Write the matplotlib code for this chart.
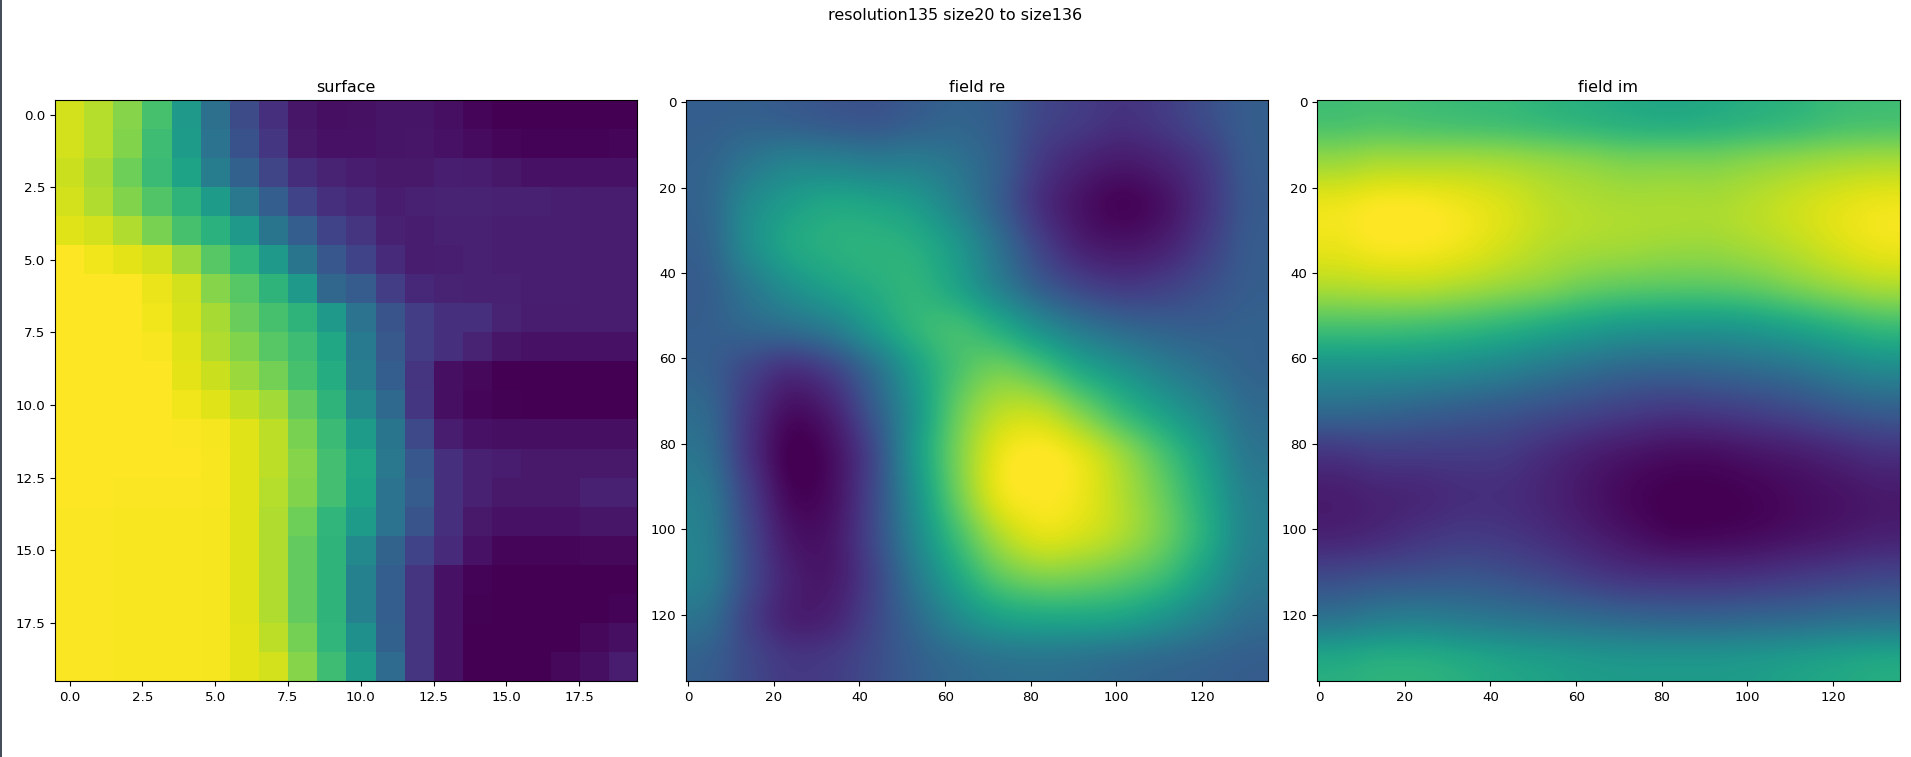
import numpy as np
import matplotlib
matplotlib.use("Agg")
import matplotlib.pyplot as plt
from matplotlib.lines import Line2D

# surface, 20 x 20
surface = [
    [.93, .89, .82, .71, .54, .37, .23, .14, .06, .04, .045, .055, .055, .04, .015, 0, 0, 0, 0, 0],
    [.93, .89, .81, .69, .55, .38, .25, .16, .07, .05, .05, .055, .06, .05, .03, .015, .01, .01, .01, .015],
    [.92, .87, .78, .68, .58, .42, .31, .21, .13, .10, .08, .07, .07, .085, .08, .065, .05, .05, .05, .05],
    [.93, .88, .81, .73, .65, .55, .40, .30, .20, .14, .11, .08, .09, .10, .10, .09, .09, .085, .08, .08],
    [.95, .93, .88, .80, .71, .64, .54, .39, .30, .20, .15, .09, .08, .09, .09, .085, .085, .085, .08, .08],
    [1.0, .98, .96, .93, .85, .74, .66, .54, .39, .27, .20, .12, .08, .085, .09, .085, .085, .085, .08, .08],
    [1, 1, 1, .97, .93, .82, .74, .65, .54, .33, .29, .18, .11, .10, .09, .09, .085, .085, .08, .08],
    [1, 1, 1, .98, .94, .87, .77, .71, .65, .54, .38, .26, .18, .14, .14, .10, .08, .08, .08, .08],
    [1, 1, 1, .99, .95, .88, .81, .74, .69, .60, .41, .28, .18, .14, .10, .06, .05, .05, .05, .05],
    [1, 1, 1, 1, .96, .92, .85, .79, .71, .62, .42, .30, .15, .04, .02, 0, 0, 0, 0, 0],
    [1, 1, 1, 1, .98, .95, .91, .86, .76, .65, .47, .34, .16, .04, .015, .005, 0, 0, 0, 0],
    [1, 1, 1, 1, .995, .985, .95, .90, .80, .68, .55, .39, .22, .08, .05, .04, .04, .04, .04, .04],
    [1, 1, 1, 1, 1, .99, .95, .90, .82, .70, .59, .40, .27, .14, .09, .08, .07, .07, .07, .07],
    [1, 1, .995, .995, .995, .99, .95, .89, .81, .70, .58, .38, .29, .14, .09, .07, .07, .07, .09, .09],
    [.995, .995, .99, .99, .99, .985, .95, .88, .78, .66, .55, .38, .26, .14, .07, .05, .05, .05, .06, .06],
    [.995, .995, .99, .99, .99, .985, .95, .88, .76, .65, .47, .32, .20, .12, .05, .015, .015, .015, .02, .02],
    [.995, .995, .99, .99, .99, .985, .95, .88, .76, .65, .44, .30, .15, .05, .01, 0, 0, 0, 0, 0],
    [.995, .995, .99, .99, .99, .985, .95, .88, .76, .65, .44, .30, .15, .05, .005, 0, 0, 0, 0, .01],
    [.995, .995, .99, .99, .99, .985, .96, .90, .79, .66, .50, .31, .15, .05, 0, 0, 0, 0, .02, .04],
    [.995, .995, .99, .99, .99, .985, .96, .93, .82, .69, .55, .35, .15, .05, 0, 0, 0, .02, .04, .08],
]

field_re = [
    [.30, .31, .30, .28, .27, .30, .32, .29, .21, .17, .14, .17, .23, .29],
    [.32, .39, .44, .44, .42, .42, .38, .30, .17, .10, .07, .10, .17, .28],
    [.33, .47, .55, .59, .58, .54, .44, .30, .14, .05, .01, .05, .15, .27],
    [.32, .48, .59, .63, .64, .62, .53, .37, .20, .09, .06, .09, .18, .28],
    [.30, .40, .50, .57, .62, .65, .58, .44, .30, .21, .17, .19, .24, .29],
    [.30, .33, .36, .42, .54, .65, .69, .62, .50, .40, .34, .31, .30, .31],
    [.30, .21, .14, .20, .36, .56, .71, .78, .72, .60, .51, .43, .37, .32],
    [.33, .16, .04, .09, .28, .52, .76, .89, .90, .80, .67, .56, .46, .36],
    [.36, .15, .0, .04, .22, .53, .79, .96, 1.0, .95, .84, .70, .55, .40],
    [.40, .19, .02, .04, .22, .50, .77, .96, 1.0, .97, .88, .76, .60, .44],
    [.42, .22, .06, .06, .22, .46, .69, .87, .95, .93, .87, .77, .62, .45],
    [.42, .23, .09, .07, .20, .40, .59, .74, .80, .79, .75, .68, .55, .42],
    [.36, .20, .09, .10, .21, .34, .47, .56, .59, .59, .57, .51, .43, .36],
    [.30, .22, .16, .17, .23, .30, .35, .38, .39, .38, .36, .34, .32, .30],
]

field_im = [
    [.71, .72, .71, .70, .69, .67, .65, .63, .62, .63, .65, .67, .70, .71],
    [.85, .87, .87, .87, .86, .84, .82, .80, .80, .80, .82, .84, .86, .87],
    [.97, .99, .99, .97, .94, .90, .88, .87, .87, .87, .89, .92, .95, .97],
    [.97, .99, .99, .97, .93, .89, .87, .86, .85, .85, .87, .90, .94, .97],
    [.88, .89, .89, .87, .84, .81, .77, .75, .74, .74, .76, .80, .84, .87],
    [.70, .70, .69, .67, .64, .60, .56, .53, .52, .52, .54, .58, .63, .67],
    [.50, .50, .49, .47, .44, .40, .36, .33, .32, .33, .35, .38, .43, .47],
    [.34, .33, .31, .29, .27, .24, .21, .18, .16, .17, .19, .22, .26, .29],
    [.16, .18, .18, .18, .17, .13, .09, .06, .04, .04, .06, .08, .11, .14],
    [.08, .10, .11, .13, .13, .10, .06, .02, .0, 0, .01, .03, .05, .07],
    [.10, .12, .15, .17, .16, .13, .09, .05, .02, .02, .03, .05, .07, .09],
    [.23, .25, .26, .27, .25, .22, .18, .15, .14, .14, .15, .17, .19, .21],
    [.39, .42, .43, .41, .39, .37, .35, .33, .32, .32, .33, .34, .36, .37],
    [.60, .62, .62, .60, .57, .55, .53, .52, .52, .52, .53, .55, .57, .59],
]

W, H = 1911, 757
fig = plt.figure(figsize=(W / 100, H / 100), dpi=100)


def add_panel(left, right, title):
    ax = fig.add_axes([left / W, 1 - 681 / H, (right - left) / W, 581 / H])
    ax.set_title(title, fontsize=11.5, pad=6)
    ax.tick_params(labelsize=9.6, length=3.5, width=0.8)
    return ax


ax = add_panel(55, 637.5, "surface")
ax.imshow(surface, cmap="viridis", vmin=0, vmax=1, aspect="auto", interpolation="nearest")

ax = add_panel(686, 1268.5, "field re")
ax.imshow(field_re, cmap="viridis", vmin=0, vmax=1, aspect="auto", interpolation="catrom",
          extent=(-0.5, 135.5, 135.5, -0.5))

ax = add_panel(1317, 1899.5, "field im")
ax.imshow(field_im, cmap="viridis", vmin=0, vmax=1, aspect="auto", interpolation="catrom",
          extent=(-0.5, 135.5, 135.5, -0.5))

fig.suptitle("resolution135 size20 to size136", fontsize=11.5, x=0.5, y=1 - 16 / H, va="center")

# dark edge down the left side of the window
fig.add_artist(Line2D([0.0004, 0.0004], [0, 1], color="#1f2a38", lw=1.2))

fig.savefig("out.png", dpi=100)
